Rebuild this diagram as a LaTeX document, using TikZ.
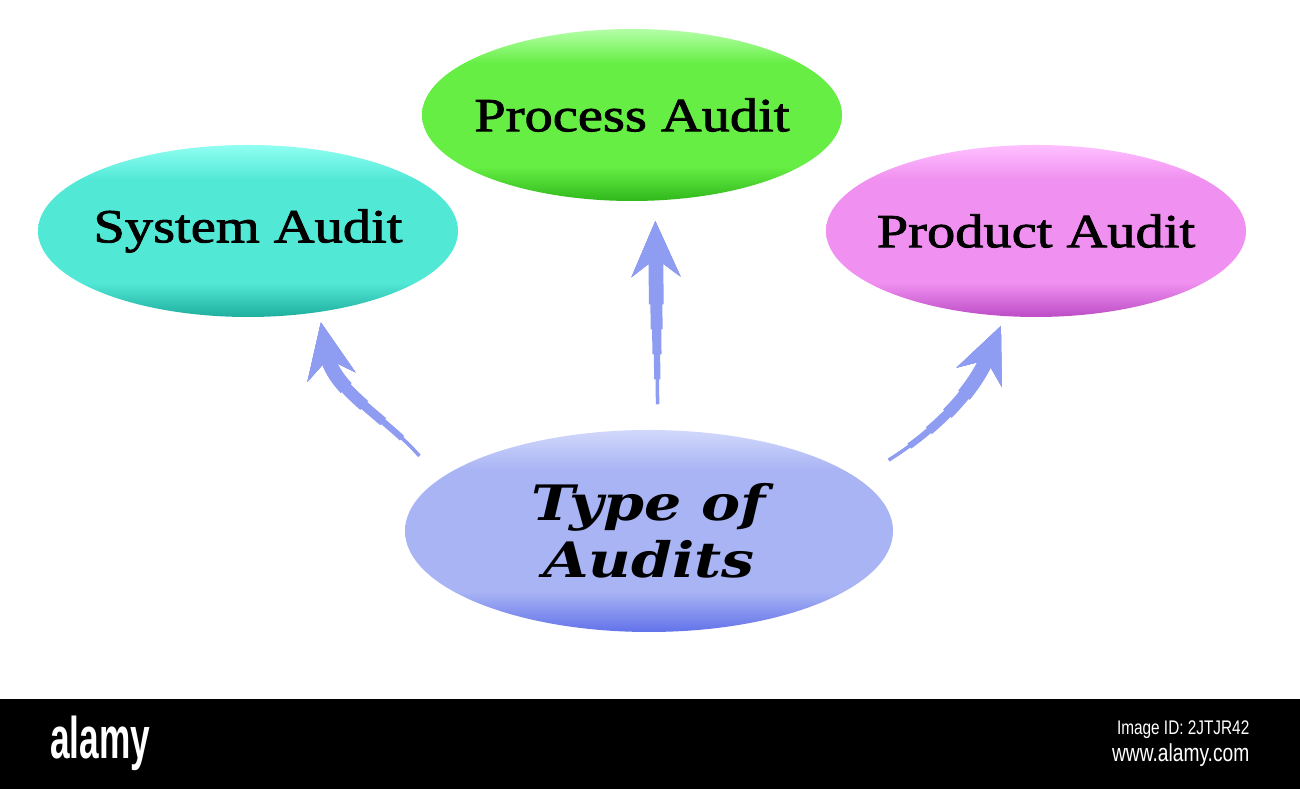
\documentclass[tikz,border=0pt]{standalone}
\usepackage{fontspec}
\setmainfont{Liberation Serif}
\newfontfamily\labelfont[FakeStretch=1.19,FakeBold=1.8]{Liberation Serif}
\newfontfamily\typefont[FakeStretch=1.2]{DejaVu Serif}
\newfontfamily\logofont[FakeStretch=0.6]{Liberation Sans}
\newfontfamily\barfont[FakeStretch=0.78]{Liberation Sans}
\usetikzlibrary{positioning,shapes.geometric,arrows.meta}

\definecolor{procmid}{HTML}{66EE44}
\definecolor{proctop}{HTML}{B4FFA8}
\definecolor{procbot}{HTML}{30B81C}
\definecolor{sysmid}{HTML}{52E8D6}
\definecolor{systop}{HTML}{90FFF2}
\definecolor{sysbot}{HTML}{1EAE9E}
\definecolor{prodmid}{HTML}{F090F0}
\definecolor{prodtop}{HTML}{FFC0FF}
\definecolor{prodbot}{HTML}{BC4CC6}
\definecolor{typemid}{HTML}{A8B4F4}
\definecolor{typetop}{HTML}{D2D8FB}
\definecolor{typebot}{HTML}{6272EA}
\definecolor{arrowblue}{HTML}{8E9CF2}

% flat body with a light top rim and a dark bottom rim
\pgfdeclareverticalshading{procrim}{100bp}{color(0bp)=(procbot); color(25bp)=(procbot);
  color(35bp)=(procmid); color(65bp)=(procmid); color(75bp)=(proctop); color(100bp)=(proctop)}
\pgfdeclareverticalshading{sysrim}{100bp}{color(0bp)=(sysbot); color(25bp)=(sysbot);
  color(35bp)=(sysmid); color(65bp)=(sysmid); color(75bp)=(systop); color(100bp)=(systop)}
\pgfdeclareverticalshading{prodrim}{100bp}{color(0bp)=(prodbot); color(25bp)=(prodbot);
  color(35bp)=(prodmid); color(65bp)=(prodmid); color(75bp)=(prodtop); color(100bp)=(prodtop)}
\pgfdeclareverticalshading{typerim}{100bp}{color(0bp)=(typebot); color(25bp)=(typebot);
  color(35bp)=(typemid); color(65bp)=(typemid); color(75bp)=(typetop); color(100bp)=(typetop)}

\begin{document}
\begin{tikzpicture}[node distance=3cm,on grid,
    audit/.style={ellipse,minimum width=4.2cm,minimum height=1.72cm,
      inner ysep=0pt,inner xsep=-1cm,shading=#1rim,
      font=\labelfont\fontsize{13.5}{15}\selectfont},
    auditarrow/.style={draw=arrowblue,-{Stealth[length=5.5mm,width=4.8mm,inset=1.8mm]}},
    barnote/.style={text=white,inner sep=0pt}]
    \fill[white] (0,0) rectangle (13,7.89);
    \useasboundingbox (0,0) rectangle (13,7.89);
    % the four ellipses
    \node[audit=type,minimum width=4.88cm,minimum height=2.02cm,inner xsep=0pt,
      font=\typefont\bfseries\itshape\fontsize{13.9}{15.1}\selectfont,
      align=center] (types) at (6.49,2.58) {\raisebox{1mm}{Type of}\\[-0.6mm]Audits};
    \node[audit=sys] (sys) [above left=3cm and 4.01cm of types] {System Audit};
    \node[audit=prod] (prod) [above right=3cm and 3.87cm of types] {Product Audit};
    \node[audit=proc] (proc) [above=4.16cm of types,xshift=-1.7mm] {Process Audit};
    % tapered arrows: same path, thicker strokes start further on
    \foreach \w/\s in {1/0.01,1.8/2.5,2.6/5,3.4/7.5,4.2/10}{
      \begin{scope}[line width=\w pt,dash pattern=on 0pt off \s mm on 60mm]
        \draw[auditarrow,shorten <=3mm,shorten >=1mm]
          (types.166) to[out=131,in=-79] (sys.-49);
        \draw[auditarrow,shorten <=2.5mm,shorten >=2mm]
          (types.85) -- (proc.-75);
        \draw[auditarrow,shorten <=3.5mm,shorten >=1mm]
          (types.14) to[out=32,in=-113] (prod.-110);
      \end{scope}
    }
    % bottom bar
    \fill[black] (0,0) rectangle (13,0.90);
    \node[barnote,font=\logofont\bfseries\fontsize{16.7}{18}\selectfont] (logo) at (1.00,0.46) {alamy};
    \node[barnote,anchor=east,font=\barfont\fontsize{5.6}{6}\selectfont] (imgid) at (12.50,0.59) {Image ID: 2JTJR42};
    \node[barnote,anchor=east,font=\barfont\fontsize{7}{8}\selectfont] (site) at (12.50,0.34) {www.alamy.com};
\end{tikzpicture}
\end{document}
